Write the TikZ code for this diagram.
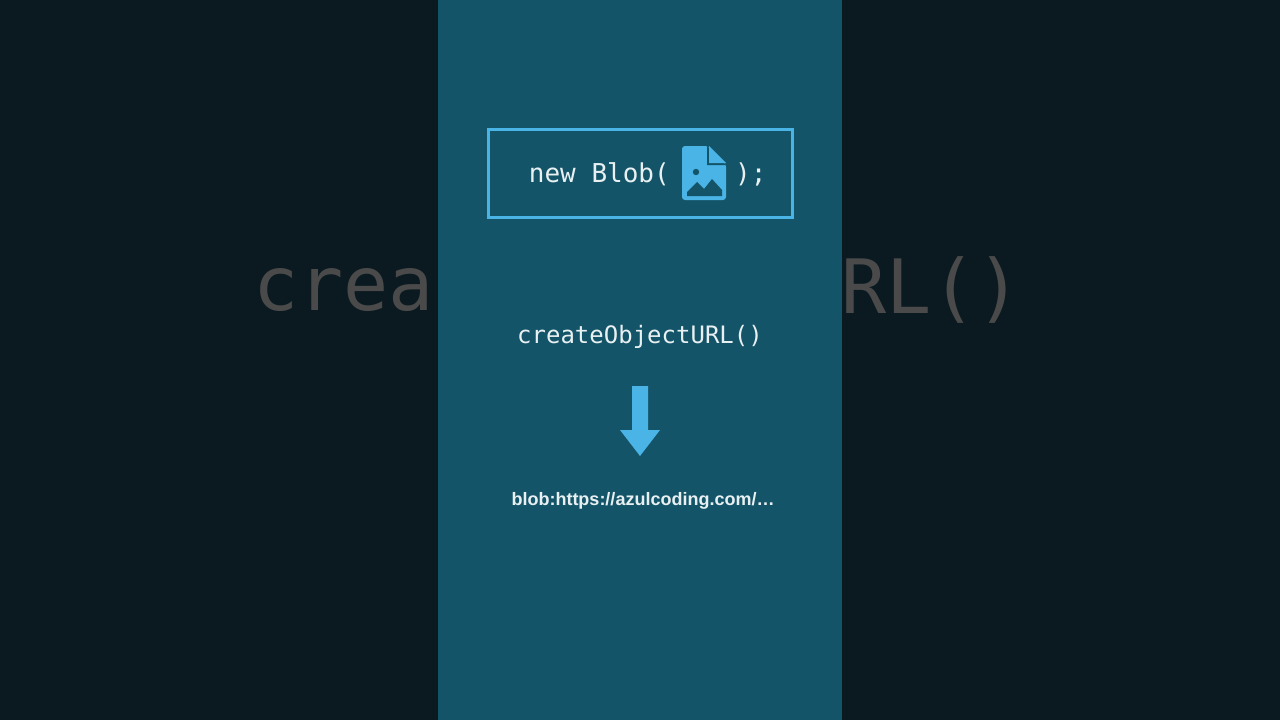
\documentclass[tikz,border=0pt]{standalone}
\usepackage{fontspec}
\setmonofont{DejaVu Sans Mono}
\setsansfont{Liberation Sans}
\definecolor{bgdark}{HTML}{0A1A20}
\definecolor{panel}{HTML}{145469}
\definecolor{accent}{HTML}{4AB4E6}
\definecolor{ghost}{HTML}{4A4A4A}
\definecolor{txt}{HTML}{E8F0F2}
\begin{document}
\begin{tikzpicture}[x=1pt,y=-1pt,
  codetext/.style={font=\ttfamily\fontsize{24}{28}\selectfont, text=txt, inner sep=0pt},
  ghosttext/.style={font=\ttfamily\fontsize{75}{80}\selectfont, text=ghost, inner sep=0pt}]
\useasboundingbox (0,0) rectangle (1280,720);
\fill[bgdark] (0,0) rectangle (1280,720);
\node[ghosttext, anchor=west] (g1) at (253,290) {crea};
\node[ghosttext, anchor=east] (g2) at (1022,290) {RL()};
\fill[panel] (438,0) rectangle (842,720);
\draw[accent, line width=3pt] (488,129) rectangle (792,217);
\node[codetext, font=\ttfamily\fontsize{26}{28}\selectfont, anchor=east] (nb) at (670,174) {new Blob(};
\node[codetext, font=\ttfamily\fontsize{26}{28}\selectfont, anchor=west] (end) at (735,174) {);};
% file icon
\fill[accent, rounded corners=3pt] (682,146) -- (708,146) -- (726,164) -- (726,200) -- (682,200) -- cycle;
\fill[panel] (707,146) -- (707,165) -- (726,165) -- cycle;
\fill[accent] (709,146) -- (726,163) -- (709,163) -- cycle;
\fill[panel] (696,172) circle (3.2pt);
\fill[panel] (687,196) -- (687,192) -- (697,182) -- (704,189) -- (712,179) -- (722,190) -- (722,196) -- cycle;
\node[codetext] (cou) at (640,337) {createObjectURL()};
\fill[accent] (632,386) -- (648,386) -- (648,430) -- (660,430) -- (640,456) -- (620,430) -- (632,430) -- cycle;
\node[font=\sffamily\bfseries\fontsize{18}{20}\selectfont, text=txt, inner sep=0pt] (url) at (643,501) {blob:https://azulcoding.com/…};
\end{tikzpicture}
\end{document}
